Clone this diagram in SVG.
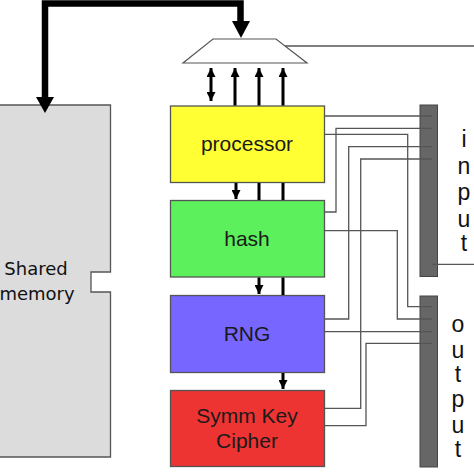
<svg xmlns="http://www.w3.org/2000/svg" width="474" height="474" viewBox="0 0 474 474">
<style>
.blk{stroke:#555;stroke-width:1.3}
.lbl{font-family:"Liberation Sans",Arial,sans-serif;font-size:21px;text-anchor:middle;fill:#1a1a1a}
.wire{fill:none;stroke:#555;stroke-width:1.3}
.bus{fill:none;stroke:#000;stroke-width:3}
.big{fill:none;stroke:#000;stroke-width:6.5}
.let{font-family:"Liberation Sans",Arial,sans-serif;font-size:23px;text-anchor:middle;fill:#111}
.mem{font-family:"DejaVu Sans",sans-serif;font-size:18px;text-anchor:middle;fill:#111}
</style>
<defs>
<marker id="ah" viewBox="0 0 10 10" refX="10" refY="5" markerWidth="3" markerHeight="3" orient="auto-start-reverse" markerUnits="strokeWidth">
<path d="M0,0 L10,5 L0,10 Z" fill="#000"/>
</marker>
</defs>
<rect width="474" height="474" fill="#fff"/>
<g id="memory">
<path d="M-2,105 H110.5 V272 H91 V292 H110.5 V457 H-2 Z" fill="#dcdcdc" class="blk"/>
<text class="mem" x="36" y="275">Shared</text>
<text class="mem" x="37" y="300">memory</text>
</g>
<g id="mux">
<path d="M213,39 H276 L307,63 H183 Z" fill="#fff" stroke="#555" stroke-width="1.2"/>
</g>
<g id="processor">
<rect x="170.5" y="106" width="154" height="76.5" fill="#ffff33" class="blk"/>
<text class="lbl" x="247" y="151">processor</text>
</g>
<g id="hash">
<rect x="170.5" y="200.5" width="154" height="76.5" fill="#5cf05c" class="blk"/>
<text class="lbl" x="247" y="246">hash</text>
</g>
<g id="rng">
<rect x="170.5" y="295.5" width="154" height="77" fill="#7766ff" class="blk"/>
<text class="lbl" x="247" y="341">RNG</text>
</g>
<g id="cipher">
<rect x="170.5" y="390.5" width="154" height="76" fill="#ee3333" class="blk"/>
<text class="lbl" x="247" y="423">Symm Key</text>
<text class="lbl" x="247" y="448">Cipher</text>
</g>
<g id="input">
<rect x="420" y="105" width="17.5" height="171.5" fill="#666" stroke="#444" stroke-width="1"/>
<text class="let" x="464" y="147">i</text>
<text class="let" x="464" y="174">n</text>
<text class="let" x="464" y="200">p</text>
<text class="let" x="464" y="227">u</text>
<text class="let" x="464" y="251">t</text>
</g>
<g id="output">
<rect x="420" y="296" width="17.5" height="171" fill="#666" stroke="#444" stroke-width="1"/>
<text class="let" x="458" y="332">o</text>
<text class="let" x="458" y="358">u</text>
<text class="let" x="458" y="382">t</text>
<text class="let" x="458" y="407">p</text>
<text class="let" x="458" y="433">u</text>
<text class="let" x="458" y="457">t</text>
</g>
<g id="connectors">
<path class="big" d="M45,98 V3.5 H240.5 V22"/>
<path d="M36,97 L54,97 L45,113 Z" fill="#000"/>
<path d="M232,21 L250,21 L241,38 Z" fill="#000"/>
<path class="wire" d="M285,46 H476"/>
<line class="bus" x1="211" y1="68" x2="211" y2="101" marker-start="url(#ah)" marker-end="url(#ah)"/>
<line class="bus" x1="235" y1="105.5" x2="235" y2="68" marker-end="url(#ah)"/>
<line class="bus" x1="259" y1="105.5" x2="259" y2="68" marker-end="url(#ah)"/>
<line class="bus" x1="283" y1="105.5" x2="283" y2="68" marker-end="url(#ah)"/>
<path class="bus" d="M259,183 V200 M283,183 V200 M283,277.5 V295"/>
<line class="bus" x1="236" y1="183" x2="236" y2="199" marker-end="url(#ah)"/>
<line class="bus" x1="259" y1="277.5" x2="259" y2="294" marker-end="url(#ah)"/>
<line class="bus" x1="283" y1="373" x2="283" y2="389" marker-end="url(#ah)"/>
<path class="wire" d="M324.5,116 H432"/>
<path class="wire" d="M324.5,212 H336 V128.3 H432"/>
<path class="wire" d="M324.5,134.3 H407.7 V306.7 H432"/>
<path class="wire" d="M324.5,319 H348.7 V146.7 H432"/>
<path class="wire" d="M324.5,408.3 H360.7 V159 H432"/>
<path class="wire" d="M324.5,230.7 H397.3 V319 H432"/>
<path class="wire" d="M324.5,331.7 H432"/>
<path class="wire" d="M324.5,425.7 H366 V343.3 H432"/>
<path class="wire" d="M432,264.3 H476"/>
</g>
</svg>
